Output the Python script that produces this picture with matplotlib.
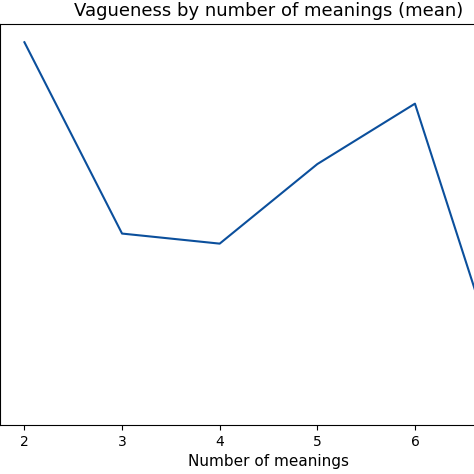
import matplotlib
matplotlib.use("Agg")
import matplotlib.pyplot as plt

meanings = [2, 3, 4, 5, 6, 7]
vagueness = [3.84, 1.94, 1.84, 2.63, 3.23, 0.22]

fig = plt.figure(figsize=(4.74, 4.74), dpi=100)
ax = fig.add_axes([0.0, 1 - 425/474, 537/474, 401/474])
ax.plot(meanings, vagueness, color="#0b4f9c", lw=1.5)
ax.set_xlim(1.75, 7.25)
ax.set_xticks([2, 3, 4, 5, 6])
ax.set_yticks([])
ax.set_xlabel("Number of meanings", fontsize=11)
ax.set_title("Vagueness by number of meanings (mean)", fontsize=13)
ax.tick_params(labelsize=10)
fig.savefig("out.png", dpi=100)
